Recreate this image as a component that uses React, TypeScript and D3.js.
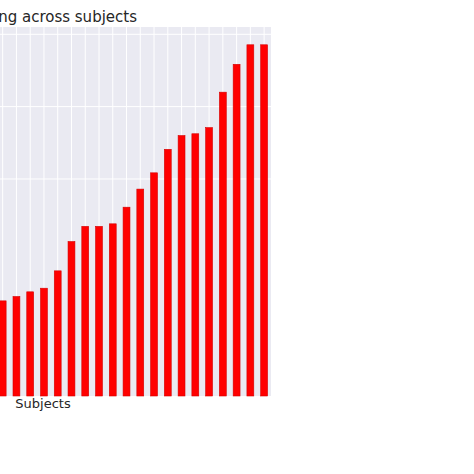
import React from "react";
import * as d3 from "d3";

const subjects: string[] = [
  "S1", "S2", "S3", "S4", "S5", "S6", "S7", "S8", "S9", "S10",
  "S11", "S12", "S13", "S14", "S15", "S16", "S17", "S18", "S19", "S20",
];
const values: number[] = [
  26.3, 27.5, 28.8, 29.8, 34.6, 42.7, 46.9, 46.9, 47.6, 52.2,
  57.2, 61.7, 68.2, 72.0, 72.5, 74.2, 84.0, 91.7, 97.1, 97.1,
];
const yTicks: number[] = [60, 80, 100];
const titleText = "ng across subjects";
const xLabel = "Subjects";

const W = 474;
const H = 474;
const plotLeft = -200;
const plotRight = 271;
const plotTop = 27;
const plotBottom = 396;

export default function App() {
  const x = d3
    .scaleBand<string>()
    .domain(subjects)
    .range([-4.2, plotRight])
    .paddingInner(0.5)
    .paddingOuter(0.25);
  const y = d3.scaleLinear().domain([0, 100]).range([plotBottom, 34.3]);

  return (
    <div style={{ position: "fixed", left: 0, top: 0 }}>
      <svg width={W} height={H} style={{ display: "block", background: "#ffffff" }}>
        <rect
          x={plotLeft}
          y={plotTop}
          width={plotRight - plotLeft}
          height={plotBottom - plotTop}
          fill="#EAEAF2"
        />
        {subjects.map((s) => {
          const cx = (x(s) ?? 0) + x.bandwidth() / 2;
          return (
            <line
              key={"vg" + s}
              x1={cx}
              x2={cx}
              y1={plotTop}
              y2={plotBottom}
              stroke="#ffffff"
              strokeWidth={1}
            />
          );
        })}
        {yTicks.map((t) => (
          <line
            key={"hg" + t}
            x1={plotLeft}
            x2={plotRight}
            y1={y(t)}
            y2={y(t)}
            stroke="#ffffff"
            strokeWidth={1}
          />
        ))}
        {subjects.map((s, i) => (
          <rect
            key={"b" + s}
            x={x(s)}
            y={y(values[i])}
            width={x.bandwidth()}
            height={plotBottom - y(values[i])}
            fill="#ff0000"
            stroke="#d40000"
            strokeWidth={0.6}
          />
        ))}
        <text
          x={137}
          y={22.3}
          textAnchor="end"
          fontFamily="DejaVu Sans"
          fontSize={15}
          fill="#262626"
        >
          {titleText}
        </text>
        <text
          x={43}
          y={408}
          textAnchor="middle"
          fontFamily="DejaVu Sans"
          fontSize={13}
          fill="#262626"
        >
          {xLabel}
        </text>
      </svg>
    </div>
  );
}
